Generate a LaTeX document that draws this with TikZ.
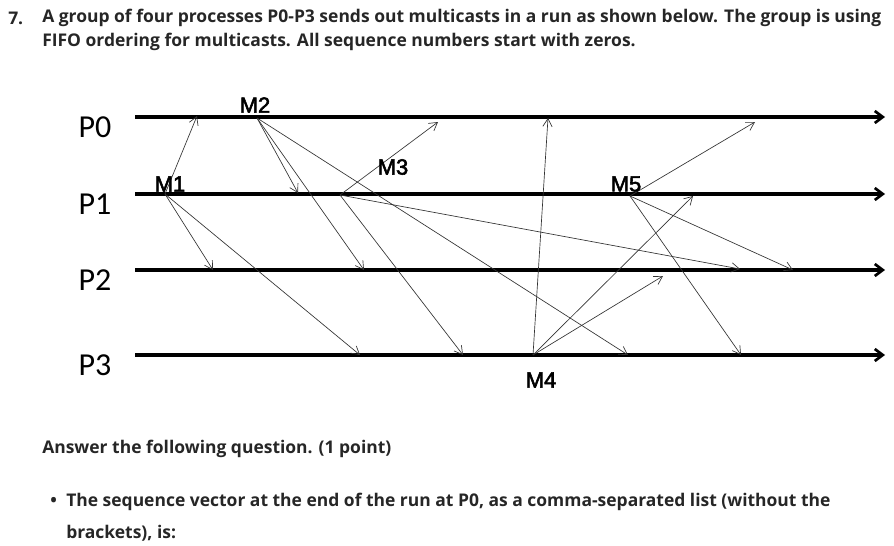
\documentclass[tikz,border=0pt]{standalone}
\usepackage{fontspec}
\setmainfont{Open Sans}
\newfontfamily\arialf[FakeBold=2.5]{Liberation Sans}
\newfontfamily\calib{Carlito}
\usetikzlibrary{arrows.meta}
\begin{document}
\begin{tikzpicture}[x=0.75pt,y=-0.75pt,
  tline/.style={line width=2.4pt,-{Straight Barb[length=6pt,width=9pt,line width=2pt]}},
  msg/.style={line width=0.5pt,black!80,-{Straight Barb[length=6pt,width=7pt]}},
  plab/.style={font=\calib\fontsize{24}{26}\selectfont},
  mlab/.style={font=\arialf\fontsize{16.5}{18}\selectfont,inner sep=0},
  txt/.style={anchor=west,inner sep=0,font=\bfseries\fontsize{13.1}{15}\selectfont,text=black!85}]
\useasboundingbox (0,0) rectangle (894,546);
% text
\node[txt] (n7) at (8,18) {7.};
\node[txt] (t1) at (42,18) {A group of four processes P0-P3 sends out multicasts in a run as shown below. The group is using};
\node[txt] (t2) at (42,42) {FIFO ordering for multicasts. All sequence numbers start with zeros.};
\node[txt] (t3) at (42,449) {Answer the following question. (1 point)};
\node[txt] (bul) at (50,502) {•};
\node[txt] (t4) at (66,502) {The sequence vector at the end of the run at P0, as a comma-separated list (without the};
\node[txt] (t5) at (66,533) {brackets), is:};
% process lines
\foreach \i/\y in {0/117,1/194,2/270,3/355}{
  \coordinate (s\i) at (135,\y);
  \coordinate (e\i) at (885,\y);
  \draw[tline] (s\i) -- (e\i);
  \node[plab] (p\i) at (95,\y+10) {P\i};
}
% send points
\coordinate (m1) at (165,194);
\coordinate (m2) at (257,118);
\coordinate (m3) at (340,195);
\coordinate (m4) at (533,355);
\coordinate (m5) at (630,196);
% receive points
\coordinate (r10) at (197,116);
\coordinate (r12) at (213,270);
\coordinate (r13) at (360,355);
\coordinate (r21) at (298,193);
\coordinate (r22) at (364,270);
\coordinate (r23) at (628,355);
\coordinate (r30) at (438,122);
\coordinate (r33) at (463,355);
\coordinate (r32) at (740,269);
\coordinate (r40) at (548,118);
\coordinate (r41) at (693,196);
\coordinate (r42) at (663,276);
\coordinate (r50) at (755,122);
\coordinate (r52) at (793,270);
\coordinate (r53) at (741,355);
\foreach \a/\b in {m1/r10,m1/r12,m1/r13,m2/r21,m2/r22,m2/r23,m3/r30,m3/r33,m3/r32,m4/r40,m4/r41,m4/r42,m5/r50,m5/r52,m5/r53}
  \draw[msg] (\a) -- (\b);
% labels
\node[mlab] (l1) at (170,184) {M1};
\node[mlab] (l2) at (255,105) {M2};
\node[mlab] (l3) at (393,167) {M3};
\node[mlab] (l4) at (541,380) {M4};
\node[mlab] (l5) at (626,184) {M5};
\end{tikzpicture}
\end{document}
